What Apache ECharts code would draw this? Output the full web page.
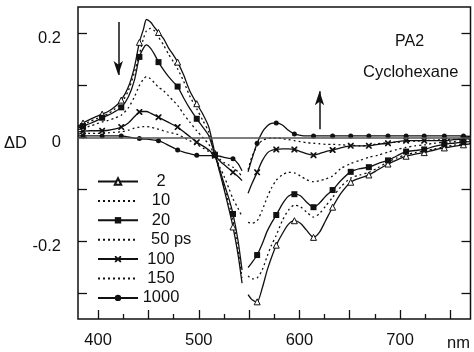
<!DOCTYPE html>
<html>
<head>
<meta charset="utf-8">
<script src="https://cdn.jsdelivr.net/npm/echarts@6/dist/echarts.min.js"></script>
<style>
  html, body { margin: 0; padding: 0; background: #fff; }
  #chart { width: 474px; height: 352px; }
</style>
</head>
<body>
<div id="chart"></div>
<script>
// wavelength grid (nm); null values mark the pump-scatter gap
const wavelength = [
  380, 385, 392, 398, 404, 410, 416, 423, 430, 436,
  441, 445, 448, 452, 456, 460, 465, 470, 475, 479,
  485, 491, 498, 504, 510, 516, 521, 525, 530, 534,
  539, 543, 546, 549, 553, 558, 563, 568, 572, 577,
  583, 589, 595, 601, 607, 614, 620, 626, 633, 641,
  651, 660, 669, 678, 688, 697, 706, 715, 724, 734,
  744, 753, 763, 770
];
const markerNm = [385, 404, 423, 441, 460, 479, 498, 516, 534, 558, 577, 595, 614, 633, 651, 669, 688, 706, 724, 744, 763];

const s2 = [
  0.022, 0.028, 0.035, 0.040, 0.045, 0.050, 0.058, 0.072, 0.097, 0.135,
  0.183, 0.208, 0.227, 0.222, 0.212, 0.202, 0.190, 0.172, 0.158, 0.145,
  0.120, 0.090, 0.065, 0.045, 0.020, -0.030, -0.068, -0.098, -0.138, -0.172,
  -0.225, -0.280, null, -0.302, -0.312, -0.316, -0.290, -0.255, -0.232, -0.207,
  -0.185, -0.167, -0.160, -0.165, -0.178, -0.192, -0.182, -0.160, -0.134, -0.108,
  -0.086, -0.078, -0.072, -0.062, -0.051, -0.043, -0.036, -0.032, -0.029, -0.024,
  -0.020, -0.017, -0.014, -0.012
];
const s10 = [
  0.020, 0.025, 0.031, 0.036, 0.041, 0.046, 0.054, 0.066, 0.090, 0.125,
  0.160, 0.190, 0.205, 0.210, 0.205, 0.193, 0.178, 0.160, 0.145, 0.132,
  0.108, 0.080, 0.055, 0.033, 0.010, -0.033, -0.066, -0.094, -0.128, -0.160,
  -0.215, -0.270, null, -0.266, -0.272, -0.270, -0.255, -0.228, -0.208, -0.188,
  -0.160, -0.140, -0.130, -0.133, -0.143, -0.153, -0.146, -0.132, -0.115, -0.095,
  -0.078, -0.072, -0.067, -0.058, -0.047, -0.039, -0.033, -0.029, -0.026, -0.022,
  -0.018, -0.015, -0.012, -0.011
];
const s20 = [
  0.018, 0.022, 0.027, 0.032, 0.038, 0.043, 0.049, 0.058, 0.078, 0.110,
  0.155, 0.172, 0.178, 0.172, 0.160, 0.145, 0.130, 0.117, 0.106, 0.098,
  0.076, 0.056, 0.036, 0.020, 0.003, -0.033, -0.063, -0.088, -0.118, -0.147,
  -0.198, -0.255, null, -0.250, -0.240, -0.226, -0.205, -0.180, -0.165, -0.149,
  -0.128, -0.113, -0.109, -0.112, -0.124, -0.134, -0.126, -0.113, -0.101, -0.083,
  -0.066, -0.060, -0.057, -0.050, -0.044, -0.035, -0.027, -0.025, -0.023, -0.017,
  -0.013, -0.011, -0.009, -0.008
];
const s50 = [
  0.015, 0.018, 0.022, 0.026, 0.030, 0.033, 0.037, 0.043, 0.057, 0.078,
  0.100, 0.112, 0.117, 0.113, 0.105, 0.097, 0.090, 0.080, 0.070, 0.062,
  0.045, 0.030, 0.013, 0.000, -0.013, -0.035, -0.057, -0.074, -0.098, -0.118,
  -0.136, -0.152, null, -0.163, -0.165, -0.160, -0.140, -0.115, -0.098, -0.082,
  -0.072, -0.067, -0.068, -0.074, -0.081, -0.085, -0.083, -0.080, -0.074, -0.060,
  -0.050, -0.044, -0.038, -0.034, -0.028, -0.023, -0.019, -0.016, -0.014, -0.011,
  -0.009, -0.008, -0.006, -0.005
];
const s100 = [
  0.011, 0.012, 0.013, 0.013, 0.013, 0.014, 0.016, 0.020, 0.028, 0.040,
  0.049, 0.050, 0.050, 0.047, 0.043, 0.039, 0.034, 0.029, 0.024, 0.020,
  0.011, 0.002, -0.009, -0.016, -0.024, -0.035, -0.045, -0.052, -0.060, -0.067,
  -0.075, -0.083, null, -0.107, -0.088, -0.067, -0.045, -0.030, -0.025, -0.023,
  -0.022, -0.022, -0.023, -0.027, -0.031, -0.034, -0.031, -0.027, -0.024, -0.020,
  -0.016, -0.016, -0.016, -0.013, -0.011, -0.008, -0.006, -0.006, -0.006, -0.006,
  -0.006, -0.004, -0.003, -0.002
];
const s150 = [
  0.007, 0.007, 0.008, 0.008, 0.008, 0.009, 0.010, 0.011, 0.014, 0.018,
  0.020, 0.021, 0.021, 0.020, 0.018, 0.016, 0.013, 0.010, 0.008, 0.006,
  0.000, -0.006, -0.013, -0.020, -0.027, -0.035, -0.042, -0.048, -0.053, -0.057,
  -0.066, -0.075, null, -0.062, -0.036, -0.016, -0.006, -0.002, -0.001, -0.001,
  -0.002, -0.004, -0.006, -0.008, -0.010, -0.011, -0.012, -0.013, -0.013, -0.014,
  -0.015, -0.016, -0.015, -0.012, -0.010, -0.009, -0.008, -0.007, -0.006, -0.005,
  -0.004, -0.003, -0.003, -0.002
];
const s1000 = [
  0.003, 0.003, 0.003, 0.003, 0.003, 0.003, 0.003, 0.003, 0.001, -0.001,
  -0.002, -0.003, -0.003, -0.004, -0.005, -0.006, -0.010, -0.015, -0.020, -0.024,
  -0.028, -0.031, -0.034, -0.035, -0.035, -0.035, -0.036, -0.038, -0.040, -0.041,
  -0.050, -0.064, null, -0.066, -0.040, -0.011, 0.010, 0.022, 0.027, 0.028,
  0.024, 0.014, 0.007, 0.004, 0.003, 0.003, 0.003, 0.003, 0.003, 0.003,
  0.003, 0.003, 0.003, 0.003, 0.003, 0.003, 0.003, 0.003, 0.003, 0.003,
  0.003, 0.003, 0.003, 0.002
];

const xLabelTicks = [400, 500, 600, 700];
const xMajorTicks = [400, 450, 500, 550, 600, 650, 700, 750];
const xMinorTicks = [425, 475, 525, 575, 625, 675, 725];
const yTicks = [-0.3, -0.2, -0.1, 0, 0.1, 0.2];
const yLabelTicks = [-0.2, 0, 0.2];

// arrows in data coordinates: [from, to]
const arrowDown = [[420, 0.222], [420, 0.12]];
const arrowUp = [[620, 0.016], [620, 0.089]];

const FONT = "'Liberation Sans', Arial, sans-serif";
const INK = "#111";
const crossPath = "path://M0,0 L2,0 L10,8 L10,10 L8,10 L0,2 Z M8,0 L10,0 L10,2 L2,10 L0,10 L0,8 Z";

const defs = [
  { name: "2", vals: s2, dash: "solid", symbol: "triangle", size: 6, fill: "#fff" },
  { name: "10", vals: s10, dash: [2, 3], symbol: "none" },
  { name: "20", vals: s20, dash: "solid", symbol: "rect", size: 6, fill: INK },
  { name: "50 ps", vals: s50, dash: [2, 3], symbol: "none" },
  { name: "100", vals: s100, dash: "solid", symbol: crossPath, size: 6, fill: INK },
  { name: "150", vals: s150, dash: [2, 3], symbol: "none" },
  { name: "1000", vals: s1000, dash: "solid", symbol: "circle", size: 5, fill: INK },
];

const series = defs.map(d => ({
  name: d.name,
  type: "line",
  smooth: 0.25,
  connectNulls: false,
  symbol: d.symbol,
  symbolSize: d.size || 0,
  showAllSymbol: true,
  lineStyle: { color: INK, width: 1.3, type: d.dash },
  itemStyle: { color: d.fill || INK, borderColor: INK, borderWidth: d.symbol === "triangle" ? 1 : 0 },
  emphasis: { disabled: true },
  data: wavelength.map((x, i) => ({
    value: [x, d.vals[i] === null ? "-" : d.vals[i]],
    symbol: markerNm.includes(x) ? d.symbol : "none",
  })),
}));

// zero baseline
series[0].markLine = {
  silent: true, symbol: "none", label: { show: false },
  lineStyle: { color: "#555", width: 1.5, type: "solid" },
  data: [{ yAxis: 0 }],
};
// annotation arrows
series[6].markLine = {
  silent: true, label: { show: false },
  symbol: ["none", "arrow"], symbolSize: [7, 14],
  lineStyle: { color: INK, width: 1.5, type: "solid" },
  data: [arrowDown, arrowUp].map(a => [{ coord: a[0] }, { coord: a[1] }]),
};

const hidden = "rgba(0,0,0,0)";
const chart = echarts.init(document.getElementById("chart"), null, { renderer: "canvas" });
chart.setOption({
  animation: false,
  backgroundColor: "#fff",
  textStyle: { fontFamily: FONT },
  grid: { left: 78, right: 3.5, top: 7, bottom: 33, show: true, borderColor: INK, borderWidth: 1.5 },
  xAxis: [
    {
      type: "value", min: 380, max: 770,
      axisLine: { show: false, onZero: false },
      splitLine: { show: false },
      axisTick: { inside: true, length: 9, lineStyle: { color: INK, width: 1.3 }, customValues: xMajorTicks },
      axisLabel: { customValues: xLabelTicks, color: INK, fontSize: 16.5, fontFamily: FONT, margin: 13 },
    },
    {
      type: "value", min: 380, max: 770, position: "bottom",
      axisLine: { show: false, onZero: false },
      splitLine: { show: false },
      axisTick: { inside: true, length: 5, lineStyle: { color: INK, width: 1.3 }, customValues: xMinorTicks },
      axisLabel: { show: false },
    },
  ],
  yAxis: [
    {
      type: "value", min: -0.349, max: 0.251, position: "left",
      axisLine: { show: false },
      splitLine: { show: false },
      axisTick: { inside: true, length: 9, lineStyle: { color: INK, width: 1.3 }, customValues: yTicks },
      axisLabel: {
        customValues: yLabelTicks, color: INK, fontFamily: FONT, margin: 17,
        formatter: v => "{t|" + (Math.abs(v) < 1e-9 ? "0" : v.toFixed(1)) + "}",
        rich: { t: { fontSize: 16.5, fontFamily: FONT, color: INK, padding: [9, 0, 0, 0] } },
      },
    },
    {
      type: "value", min: -0.349, max: 0.251, position: "right",
      axisLine: { show: false },
      splitLine: { show: false },
      axisTick: { inside: true, length: 9, lineStyle: { color: INK, width: 1.3 }, customValues: yTicks },
      axisLabel: { show: false },
    },
  ],
  legend: {
    orient: "vertical", left: 97, top: 173, padding: 0,
    itemWidth: 40, itemHeight: 8, itemGap: 2.4,
    selectedMode: false,
    data: defs.map(d => d.symbol === "none"
      ? { name: d.name, itemStyle: { color: hidden, borderColor: hidden, borderWidth: 0 } }
      : { name: d.name }),
    textStyle: {
      color: INK, fontSize: 16.5, fontFamily: FONT, lineHeight: 16,
      rich: {
        n: { width: 36, align: "center", fontSize: 16.5, fontFamily: FONT, color: INK },
        m: { fontSize: 16.5, fontFamily: FONT, color: INK, padding: [0, 0, 0, 8] },
      },
    },
    formatter: name => (name.indexOf(" ") > 0 ? "{m|" + name + "}" : "{n|" + name + "}"),
  },
  graphic: [
    { type: "text", left: 4, top: 135, style: { text: "ΔD", font: "16.5px " + FONT, fill: INK } },
    { type: "text", left: 447, top: 335, style: { text: "nm", font: "16.5px " + FONT, fill: INK } },
    { type: "text", left: 395, top: 34, style: { text: "PA2", font: "16px " + FONT, fill: INK } },
    { type: "text", left: 363, top: 64, style: { text: "Cyclohexane", font: "16.5px " + FONT, fill: INK } },
  ],
  series: series,
});
</script>
</body>
</html>
